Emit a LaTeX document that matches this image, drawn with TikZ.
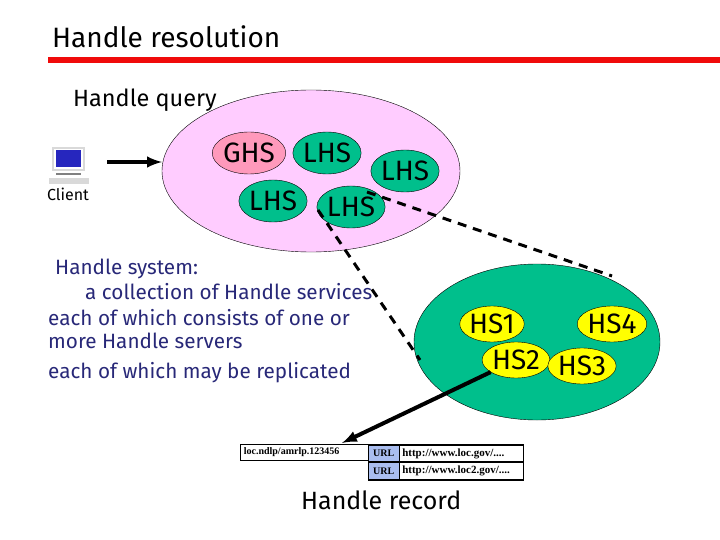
\documentclass[tikz,border=0pt]{standalone}
\usepackage{fontspec}
\setmainfont{Fira Sans}
\setmonofont{Liberation Serif}
\usetikzlibrary{shapes.geometric,positioning}
\definecolor{pinkzone}{RGB}{255,204,255}
\definecolor{ghspink}{RGB}{255,153,187}
\definecolor{seagreen}{RGB}{0,191,140}
\definecolor{hsyellow}{RGB}{255,255,0}
\definecolor{redbar}{RGB}{240,10,10}
\definecolor{navytext}{RGB}{40,40,120}
\definecolor{urlblue}{RGB}{170,190,240}
\tikzset{
	zone/.style={ellipse, draw, thin, inner sep=0},
	lhsnode/.style={zone, fill=seagreen, minimum width=66, minimum height=42, font=\fontsize{28}{28}\selectfont},
	ghsnode/.style={lhsnode, fill=ghspink},
	hsnode/.style={zone, fill=hsyellow, minimum width=60, minimum height=36, font=\fontsize{28}{28}\selectfont},
	dashline/.style={line width=3, dash pattern=on 9 off 7},
	solidline/.style={line width=4},
	title/.style={anchor=base west, inner sep=0, font=\fontsize{28}{28}\selectfont},
	subtitle/.style={title, font=\fontsize{23.5}{24}\selectfont},
	bodytext/.style={anchor=base west, inner sep=0, text=navytext, font=\fontsize{20.7}{21}\selectfont},
	cellbox/.style={draw, line width=1.6, anchor=west, inner ysep=0, inner xsep=0, minimum height=17.5, font=\fontsize{10}{10}\selectfont\ttfamily\bfseries},
	linkcell/.style={cellbox, text width=118, align=left, inner xsep=3, font=\fontsize{11}{11}\selectfont\ttfamily\bfseries},
}
\begin{document}
\begin{tikzpicture}[x=1pt, y=-1pt]
	\useasboundingbox (0, 0) rectangle (720, 540);
	\node[title] (titletext) at (52, 48) {Handle resolution};
	\fill[redbar] (48, 57) rectangle (720, 63);
	% client
	\draw[black!15, line width=1.5, fill=white] (53, 148) rectangle (84, 170);
	\fill[blue!70!black!85] (56, 150) rectangle (81, 167);
	\fill[black!50] (56, 173) rectangle (81, 175);
	\fill[black!15] (49, 178) rectangle (89, 184);
	\node[anchor=base, inner sep=0, font=\fontsize{16}{16}\selectfont] (client) at (68, 201) {Client};
	% big zones
	\node[zone, fill=pinkzone, minimum width=298, minimum height=162] (queryzone) at (311, 171) {};
	\node[zone, fill=seagreen, minimum width=246, minimum height=156] (serverzone) at (537, 342) {};
	\node[subtitle] (querytext) at (73, 107) {Handle query};
	\coordinate (clientend) at (107, 162);
	\draw[solidline, -latex] (clientend) -- (162, 162);
	% services
	\node[ghsnode] (ghs) at (249, 153) {GHS};
	\node[lhsnode] (lhsa) at (327, 153) {LHS};
	\node[lhsnode] (lhsb) at (405, 171) {LHS};
	\node[lhsnode] (lhsc) at (273, 201) {LHS};
	\node[lhsnode] (lhsd) at (351, 207) {LHS};
	% servers
	\node[hsnode] (hsa) at (492, 324) {HS1};
	\node[hsnode] (hsd) at (612, 324) {HS4};
	\node[hsnode] (hsb) at (516, 360) {HS2};
	\node[hsnode] (hsc) at (582, 366) {HS3};
	% text block
	\node[bodytext] (linea) at (55, 274) {Handle system:};
	\node[bodytext] (lineb) at (85, 299) {a collection of Handle services};
	\node[bodytext] (linec) at (48, 325) {each of which consists of one or};
	\node[bodytext] (lined) at (48, 348) {more Handle servers};
	\node[bodytext] (linee) at (48, 378) {each of which may be replicated};
	% record
	\node[cellbox, minimum width=128, minimum height=16, text width=121, align=left, inner xsep=3.5] (handlecell) at (239.5, 452.5) {loc.ndlp/amrlp.123456};
	\node[cellbox, fill=urlblue, minimum width=31] (urla) at (367.5, 453.5) {URL};
	\node[cellbox, fill=urlblue, minimum width=31] (urlb) at (367.5, 471) {URL};
	\node[linkcell] (hrefa) at (398.5, 453.5) {http://www.loc.gov/....};
	\node[linkcell] (hrefb) at (398.5, 471) {http://www.loc2.gov/....};
	\node[subtitle, font=\fontsize{25}{25}\selectfont] (recordtext) at (301, 509) {Handle record};
	% links
	\coordinate (lhsdleft) at (318, 210);
	\coordinate (lhsdright) at (367, 192);
	\coordinate (servertop) at (612, 276);
	\coordinate (serverleft) at (420, 360);
	\coordinate (handletop) at (342, 443);
	\draw[dashline] (lhsdright) -- (servertop);
	\draw[dashline] (lhsdleft) -- (serverleft);
	\draw[solidline, -latex] (hsb) -- (handletop);
\end{tikzpicture}
\end{document}
